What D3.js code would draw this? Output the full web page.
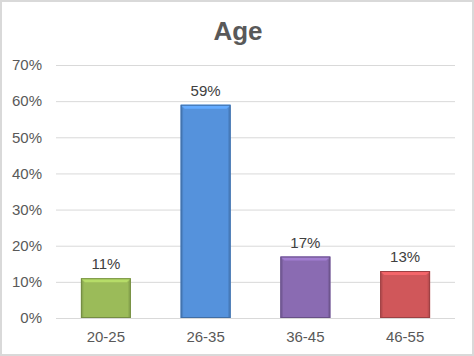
<!DOCTYPE html>
<html><head><meta charset="utf-8">
<script src="https://cdn.jsdelivr.net/npm/d3@7"></script>
<style>html,body{margin:0;padding:0;background:#fff;}svg{display:block;}</style>
</head><body>
<svg id="c" width="474" height="356"></svg>
<script>
const categories = ["20-25", "26-35", "36-45", "46-55"];
const values = [11, 59, 17, 13];
const yTicks = [0, 10, 20, 30, 40, 50, 60, 70];
const colors = ["#9bbb59", "#5592dc", "#8a6bb2", "#d0575a"];
const title = "Age";

const svg = d3.select("#c");
const W = 474, H = 356;
const FF = "Liberation Sans, Arial, sans-serif";
svg.append("rect").attr("x", 1).attr("y", 1).attr("width", W - 2).attr("height", H - 2)
  .attr("fill", "#fff").attr("stroke", "#d9d9d9").attr("stroke-width", 2);

const x = d3.scaleBand().domain(categories).range([56, 455]).paddingInner(0.5).paddingOuter(0.25);
const y = d3.scaleLinear().domain([0, 70]).range([318, 65]);

svg.append("text").attr("x", 238).attr("y", 40).attr("text-anchor", "middle")
  .attr("font-family", FF).attr("font-weight", "bold")
  .attr("font-size", 26).attr("fill", "#595959").text(title);

const yAxis = d3.axisLeft(y).tickValues(yTicks).tickSize(-(455 - 56)).tickFormat(d => d + "%").tickPadding(14);
const ga = svg.append("g").attr("transform", "translate(56,0)").call(yAxis);
ga.select(".domain").remove();
ga.selectAll(".tick line").attr("stroke", "#d9d9d9").attr("stroke-width", 1);
ga.selectAll(".tick text").attr("font-family", FF).attr("font-size", 15).attr("fill", "#595959");

const xAxis = d3.axisBottom(x).tickSize(0).tickPadding(13);
const gx = svg.append("g").attr("transform", "translate(0,318)").call(xAxis);
gx.select(".domain").remove();
gx.selectAll(".tick text").attr("font-family", FF).attr("font-size", 15).attr("fill", "#595959");

const bars = svg.append("g").selectAll("g").data(categories).join("g");
bars.each(function(c, i) {
  const g = d3.select(this);
  const x0 = x(c), w = x.bandwidth(), y0 = y(values[i]), y1 = y(0), h = y1 - y0;
  const col = d3.color(colors[i]);
  const b = 4;
  g.append("rect").attr("x", x0).attr("y", y0).attr("width", w).attr("height", h).attr("fill", col);
  g.append("polygon").attr("points", [[x0, y0], [x0 + w, y0], [x0 + w - b, y0 + b], [x0 + b, y0 + b]].join(" "))
    .attr("fill", col.brighter(0.45));
  g.append("polygon").attr("points", [[x0, y0], [x0 + b * 0.6, y0 + b], [x0 + b * 0.6, y1], [x0, y1]].join(" "))
    .attr("fill", col.darker(0.3));
  g.append("polygon").attr("points", [[x0 + w, y0], [x0 + w - b * 0.6, y0 + b], [x0 + w - b * 0.6, y1], [x0 + w, y1]].join(" "))
    .attr("fill", col.darker(0.3));
  g.append("rect").attr("x", x0 + 0.5).attr("y", y0 + 0.5).attr("width", w - 1).attr("height", h - 1)
    .attr("fill", "none").attr("stroke", col.darker(0.8)).attr("stroke-width", 1);
  g.append("text").attr("x", x0 + w / 2).attr("y", y0 - 9).attr("text-anchor", "middle")
    .attr("font-family", FF).attr("font-size", 15)
    .attr("fill", "#404040").text(values[i] + "%");
});
</script>
</body></html>
